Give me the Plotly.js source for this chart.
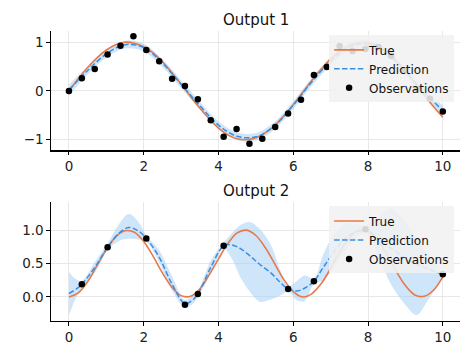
<!DOCTYPE html>
<html>
<head>
<meta charset="utf-8">
<script src="https://cdn.plot.ly/plotly-3.0.1.min.js"></script>
<style>html,body{margin:0;padding:0;background:#fff;}#chart{width:474px;height:355px;}</style>
</head>
<body>
<div id="chart"></div>
<script>
// ---------- Data ----------
const titles = ["Output 1", "Output 2"];
const legendNames = ["True", "Prediction", "Observations"];

// true curves (on a 0.25 grid)
const xTrue = [0,0.25,0.5,0.75,1,1.25,1.5,1.75,2,2.25,2.5,2.75,3,3.25,3.5,3.75,4,4.25,4.5,4.75,5,5.25,5.5,5.75,6,6.25,6.5,6.75,7,7.25,7.5,7.75,8,8.25,8.5,8.75,9,9.25,9.5,9.75,10];
const true1 = [0,0.25,0.48,0.68,0.84,0.95,1.0,0.98,0.91,0.78,0.60,0.38,0.14,-0.11,-0.35,-0.57,-0.76,-0.90,-0.98,-1.0,-0.96,-0.86,-0.71,-0.51,-0.28,-0.03,0.22,0.45,0.66,0.82,0.94,0.99,0.99,0.92,0.80,0.62,0.41,0.17,-0.08,-0.32,-0.54];
const true2 = [0,0.06,0.23,0.47,0.71,0.90,0.99,0.97,0.83,0.61,0.36,0.15,0.02,0.01,0.12,0.33,0.57,0.80,0.96,1.0,0.92,0.74,0.50,0.26,0.08,0.0,0.05,0.20,0.43,0.68,0.88,0.99,0.98,0.85,0.64,0.39,0.17,0.03,0.01,0.10,0.30];

// output 1 prediction and band
const xPred1 = [0,0.5,1,1.5,2,2.5,3,3.5,4,4.5,5,5.5,6,6.5,7,7.5,8,8.5,9,9.5,10];
const pred1  = [0.02,0.42,0.76,0.95,0.89,0.57,0.14,-0.30,-0.70,-0.93,-0.94,-0.71,-0.29,0.19,0.61,0.90,0.96,0.78,0.40,-0.03,-0.40];
const upper1 = [0.13,0.50,0.84,1.03,0.97,0.65,0.22,-0.22,-0.62,-0.85,-0.86,-0.63,-0.21,0.27,0.69,0.98,1.04,0.86,0.48,0.05,-0.30];
const lower1 = [-0.09,0.34,0.68,0.87,0.81,0.49,0.06,-0.38,-0.78,-1.01,-1.02,-0.79,-0.37,0.11,0.53,0.82,0.88,0.70,0.32,-0.11,-0.50];

// output 1 observations
const xObs1 = [0,0.345,0.690,1.034,1.379,1.724,2.069,2.414,2.759,3.103,3.448,3.793,4.138,4.483,4.828,5.172,5.517,5.862,6.207,6.552,6.897,7.241,7.586,7.931,8.276,8.621,8.966,9.310,9.655,10.0];
const yObs1 = [0.0,0.26,0.45,0.75,0.93,1.12,0.84,0.61,0.25,0.10,-0.17,-0.60,-0.94,-0.78,-1.08,-0.98,-0.74,-0.46,-0.18,0.33,0.49,0.92,0.82,0.86,0.90,0.72,0.42,0.04,-0.16,-0.42];

// output 2 prediction and band
const xPred2 = [0,0.2,0.345,0.7,1.034,1.35,1.6,1.85,2.069,2.4,2.75,3.103,3.3,3.448,3.8,4.138,4.35,4.6,4.85,5.1,5.4,5.65,5.862,6.1,6.3,6.552,6.8,7.1,7.4,7.7,7.931,8.3,8.6,9.0,9.3,9.6,9.8,10];
const pred2  = [0.05,0.12,0.19,0.45,0.745,0.96,1.04,0.99,0.875,0.61,0.20,-0.10,-0.05,0.045,0.45,0.765,0.78,0.72,0.61,0.49,0.36,0.22,0.12,0.09,0.13,0.235,0.44,0.68,0.88,0.98,1.015,0.86,0.74,0.58,0.49,0.42,0.38,0.34];
const upper2 = [0.37,0.26,0.24,0.53,0.80,1.10,1.24,1.13,0.92,0.71,0.32,-0.05,0.02,0.09,0.55,0.81,0.95,1.08,1.12,1.02,0.78,0.40,0.16,0.24,0.32,0.28,0.63,0.95,1.10,1.09,1.07,1.20,1.33,1.12,0.88,0.64,0.50,0.38];
const lower2 = [-0.27,0.00,0.14,0.37,0.70,0.84,0.87,0.86,0.83,0.53,0.10,-0.15,-0.11,0.00,0.36,0.72,0.58,0.28,0.07,-0.07,-0.04,0.02,0.08,-0.05,-0.06,0.19,0.25,0.45,0.70,0.88,0.96,0.58,0.20,-0.12,-0.27,-0.05,0.12,0.30];

// output 2 observations
const xObs2 = [0.345,1.034,2.069,3.103,3.448,4.138,5.862,6.552,7.931,10.0];
const yObs2 = [0.19,0.745,0.875,-0.115,0.045,0.765,0.12,0.235,1.015,0.34];

const xTicks = [0,2,4,6,8,10];

// ---------- Styles ----------
const cTrue = '#e8784a';
const cPred = '#3a8ee0';
const cBand = 'rgba(160,205,245,0.5)';
const font = 'DejaVu Sans, sans-serif';

function panel(xa, ya, lg, xP, p, up, lo, yT, xO, yO) {
  return [
    {x: xP, y: lo, xaxis: xa, yaxis: ya, mode: 'lines', line: {width: 0, shape: 'spline', smoothing: 1}, showlegend: false, hoverinfo: 'skip', legend: lg},
    {x: xP, y: up, xaxis: xa, yaxis: ya, mode: 'lines', line: {width: 0, shape: 'spline', smoothing: 1}, fill: 'tonexty', fillcolor: cBand, showlegend: false, hoverinfo: 'skip', legend: lg},
    {x: xTrue, y: yT, xaxis: xa, yaxis: ya, mode: 'lines', name: legendNames[0], line: {color: cTrue, width: 1.6, shape: 'spline'}, legend: lg},
    {x: xP, y: p, xaxis: xa, yaxis: ya, mode: 'lines', name: legendNames[1], line: {color: cPred, width: 1.5, dash: '5.5px,2.4px', shape: 'spline', smoothing: 1}, legend: lg},
    {x: xO, y: yO, xaxis: xa, yaxis: ya, mode: 'markers', name: legendNames[2], marker: {color: 'black', size: 6.5}, legend: lg}
  ];
}

const data = [].concat(
  panel('x', 'y', 'legend', xPred1, pred1, upper1, lower1, true1, xObs1, yObs1),
  panel('x2', 'y2', 'legend2', xPred2, pred2, upper2, lower2, true2, xObs2, yObs2)
);

const axBase = {
  showline: true, linecolor: '#000', linewidth: 1.1, mirror: false,
  ticks: 'outside', ticklen: 3.5, tickwidth: 1, tickcolor: '#000',
  showgrid: true, gridcolor: '#e2e2e2', gridwidth: 0.8, zeroline: false,
  tickfont: {family: font, size: 13.5, color: '#222'}
};

const legBase = {
  xanchor: 'left', yanchor: 'top', bgcolor: 'rgba(241,241,241,0.88)', borderwidth: 0,
  font: {family: font, size: 12, color: '#111'}, tracegroupgap: 0, itemwidth: 30,
  traceorder: 'normal'
};

const layout = {
  width: 474, height: 355,
  margin: {l: 51, r: 14, t: 31, b: 34},
  paper_bgcolor: '#fff', plot_bgcolor: '#fff',
  font: {family: font},
  xaxis: Object.assign({}, axBase, {domain: [0, 1], range: [-0.48, 10.46], tickvals: xTicks, anchor: 'y'}),
  yaxis: Object.assign({}, axBase, {domain: [0.588, 1], range: [-1.22, 1.23], tickvals: [-1, 0, 1], ticktext: ['\u22121', '0', '1'], anchor: 'x'}),
  xaxis2: Object.assign({}, axBase, {domain: [0, 1], range: [-0.48, 10.46], tickvals: xTicks, anchor: 'y2'}),
  yaxis2: Object.assign({}, axBase, {domain: [0, 0.41], range: [-0.36, 1.42], tickvals: [0, 0.5, 1], ticktext: ['0.0', '0.5', '1.0'], anchor: 'x2'}),
  legend: Object.assign({}, legBase, {x: 0.68, y: 0.985}),
  legend2: Object.assign({}, legBase, {x: 0.68, y: 0.395}),
  annotations: [
    {text: titles[0], xref: 'paper', yref: 'paper', x: 0.5, y: 1, xanchor: 'center', yanchor: 'bottom', yshift: 0, showarrow: false, font: {family: font, size: 15, color: '#111'}},
    {text: titles[1], xref: 'paper', yref: 'paper', x: 0.5, y: 0.41, xanchor: 'center', yanchor: 'bottom', yshift: 0, showarrow: false, font: {family: font, size: 15, color: '#111'}}
  ],
  showlegend: true
};

Plotly.newPlot('chart', data, layout, {displayModeBar: false, staticPlot: true});
</script>
</body>
</html>
